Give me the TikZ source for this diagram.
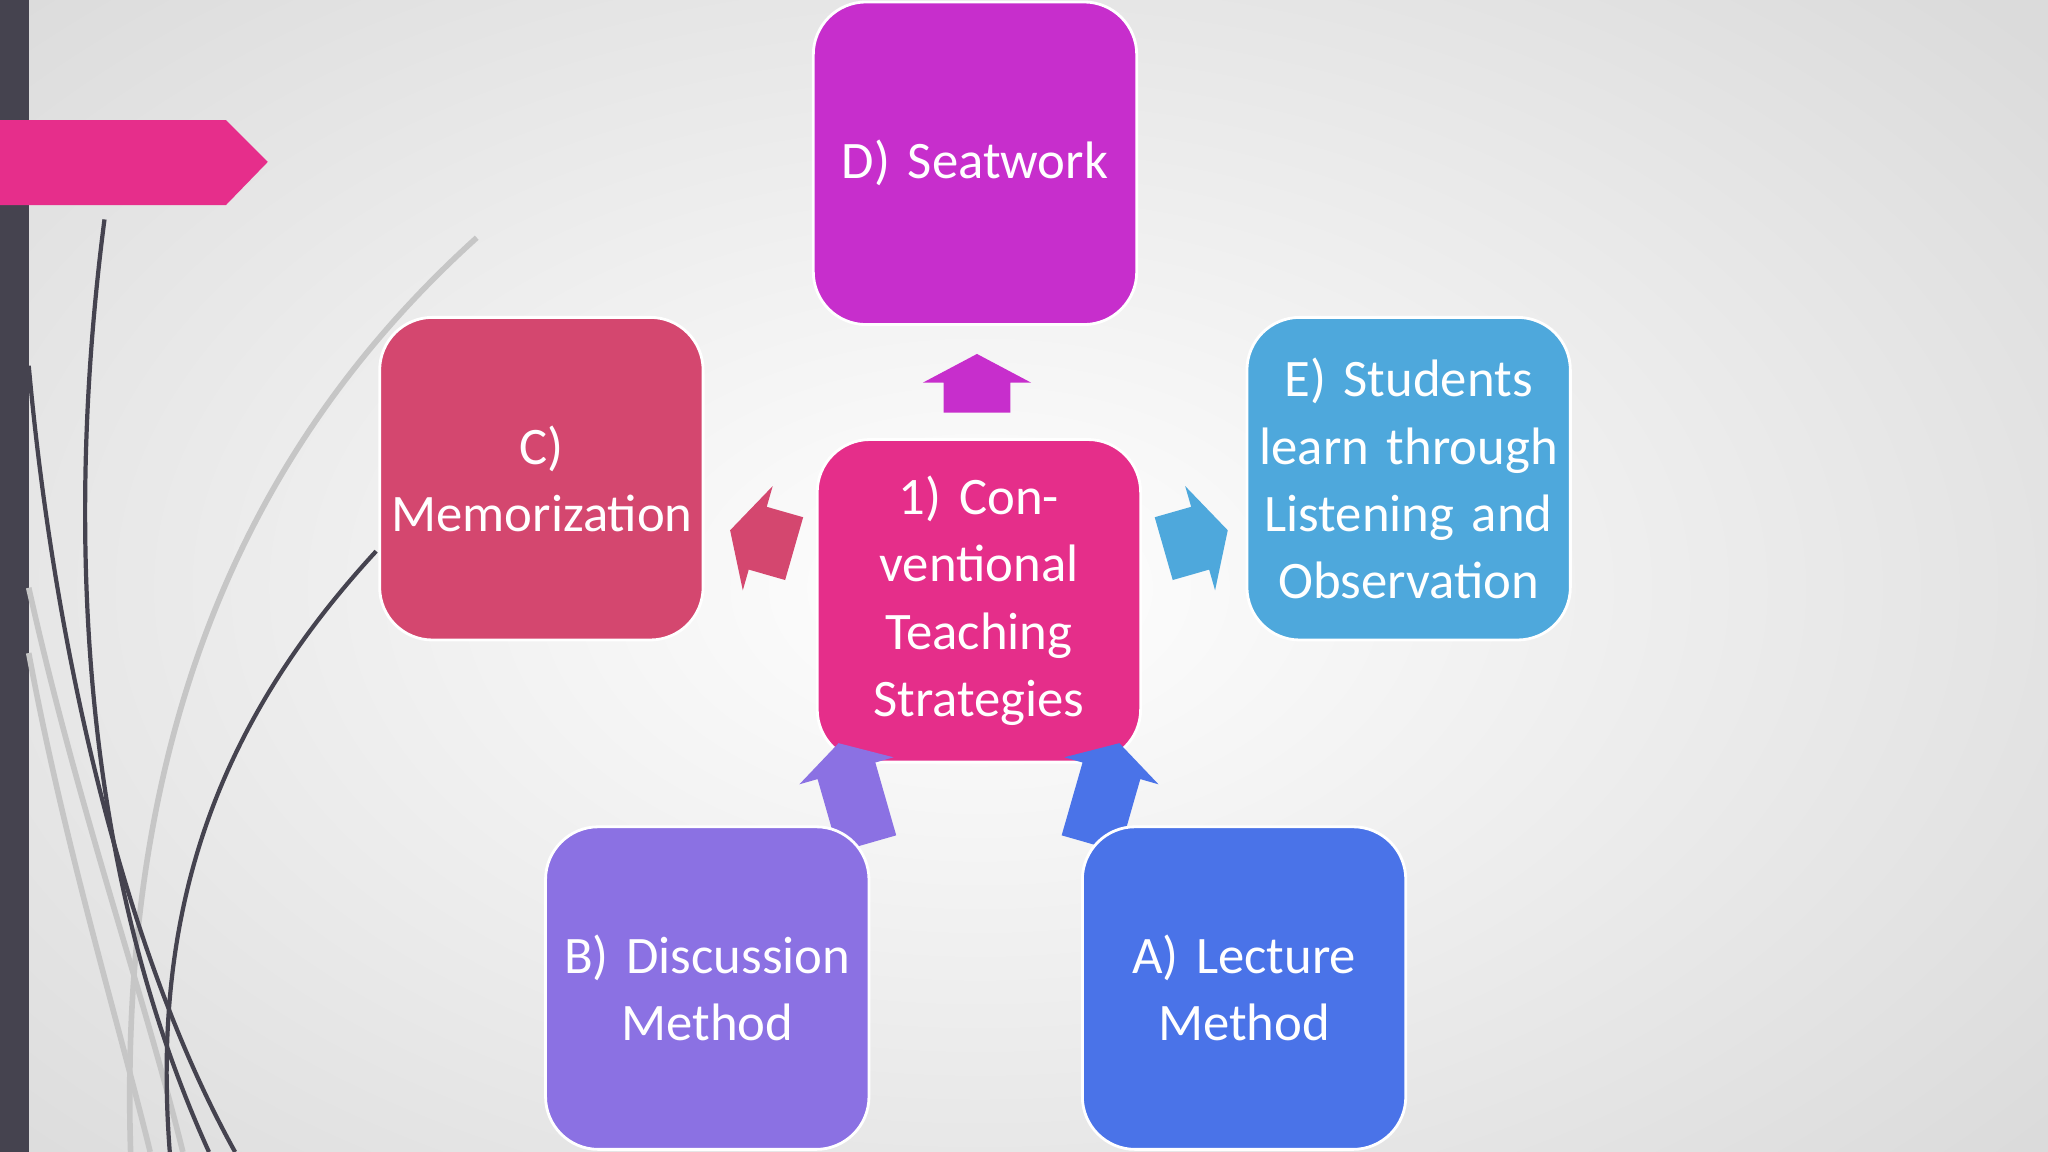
\documentclass[tikz,border=0pt]{standalone}
\usepackage{fontspec}
\setmainfont{Carlito}
\usetikzlibrary{positioning}

\definecolor{seatwork}{HTML}{C72ECC}
\definecolor{memo}{HTML}{D4476F}
\definecolor{listen}{HTML}{4EA8DC}
\definecolor{conv}{HTML}{E52E8A}
\definecolor{discuss}{HTML}{8B71E3}
\definecolor{lecture}{HTML}{4A73E8}
\definecolor{barcol}{HTML}{45434F}
\definecolor{bannercol}{HTML}{E62E8B}

\tikzset{
    box/.style={rectangle, rounded corners=15pt, draw=white, line width=0.8pt,
        minimum width=3.226cm, minimum height=3.226cm, text width=3cm,
        align=center, text=white, font=\fontsize{15}{19.2}\selectfont},
    dark line/.style={draw=barcol, line width=1.2pt},
    pale line/.style={draw=gray!45, line width=1.6pt}
}

% block arrow: tip x, tip y, angle, length, head width, shaft width, colour
\newcommand{\blockarrow}[7]{%
    \fill[#7, shift={(#1,#2)}, rotate=#3]
        (0,0) -- (-22,#5/2) -- (-22,#6/2) -- (-#4,#6/2) -- (-#4,-#6/2)
        -- (-22,-#6/2) -- (-22,-#5/2) -- cycle;}

\begin{document}
\begin{tikzpicture}[x=0.01306cm, y=-0.01306cm]
    \useasboundingbox (0,0) rectangle (1568,882);
    \shade[inner color=white, outer color=gray!28] (-300,-200) rectangle (1800,1100);
    \fill[white, opacity=0] (0,0) rectangle (1568,882);

    % left bar and banner
    \fill[barcol] (0,0) rectangle (22,882);
    \fill[bannercol] (0,92) -- (173,92) -- (205,124) -- (173,157) -- (0,157) -- cycle;

    % curves
    \draw[pale line] (22,450) .. controls (60,620) and (110,760) .. (140,882);
    \draw[pale line] (22,500) .. controls (50,650) and (90,780) .. (115,882);
    \draw[pale line] (365,182) .. controls (190,340) and (90,560) .. (100,882);
    \draw[dark line] (80,168) .. controls (55,360) and (50,640) .. (160,882);
    \draw[dark line] (22,280) .. controls (40,480) and (90,720) .. (180,882);
    \draw[dark line] (288,422) .. controls (170,550) and (115,690) .. (130,882);

    % boxes
    \node[box, fill=seatwork] (seat) at (746.5,125) {D) Seatwork};
    \node[box, fill=memo] (memo) at (414.5,366.5) {C)\\Memorization};
    \node[box, fill=listen] (listen) at (1078.5,366.5)
        {E) Students learn through Listening and Observation};
    \node[box, fill=conv] (conv) at (749.5,460)
        {1) Conventional Teaching Strategies};

    % arrows
    \blockarrow{748}{271}{90}{45}{83}{51}{seatwork}
    \blockarrow{559}{406}{164}{51}{83}{50}{memo}
    \blockarrow{940}{406}{16}{51}{83}{50}{listen}
    \blockarrow{642}{569}{106}{80}{75}{46}{discuss}
    \blockarrow{857}{569}{74}{80}{75}{46}{lecture}

    \node[box, fill=discuss] (discuss) at (541.5,756.5) {B) Discussion\\Method};
    \node[box, fill=lecture] (lecture) at (952.5,756.5) {A) Lecture\\Method};
\end{tikzpicture}
\end{document}
